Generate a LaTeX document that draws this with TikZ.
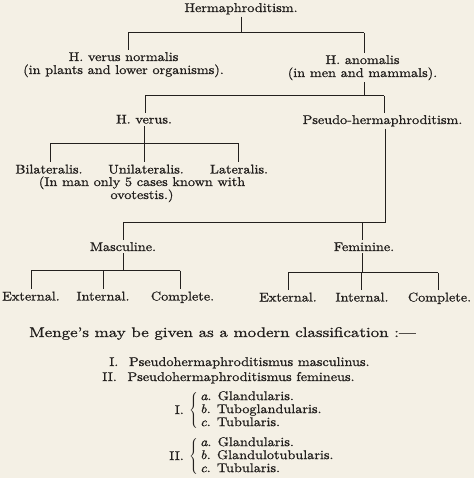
\documentclass[tikz,border=0pt]{standalone}
\usepackage{fontspec}
\setmainfont{lmroman10}[Extension=.otf, UprightFont=*-regular, ItalicFont=*-italic, BoldFont=*-bold, FakeStretch=1.12, FakeBold=1.1]
\newfontfamily\mengefont{lmroman10}[Extension=.otf, UprightFont=*-regular, ItalicFont=*-italic, FakeStretch=1.21, FakeBold=0.9]
\definecolor{bg}{RGB}{244,240,229}
\definecolor{ink}{RGB}{35,32,30}
\begin{document}
\begin{tikzpicture}[x=1pt,y=-1pt,
  lbl/.style={anchor=base, inner sep=2pt, text=ink, font=\fontsize{12.7}{13}\selectfont, align=center},
  txt/.style={inner sep=0pt, text=ink, font=\fontsize{12.7}{13}\selectfont},
  conn/.style={draw=ink, line width=1pt}]
\fill[bg] (0,0) rectangle (474,478);
\useasboundingbox (0,0) rectangle (474,478);

% tree nodes (multi-line nodes: base = last line)
\node[lbl] (herm) at (241,12) {Hermaphroditism.};
\node[lbl] (hvn) at (123.5,74) {H. verus normalis\\(in plants and lower organisms).};
\node[lbl] (hano) at (362.5,77) {H. anomalis\\(in men and mammals).};
\node[lbl] (hver) at (144,123.5) {H. verus.};
\node[lbl] (pseudo) at (382.5,124) {Pseudo-hermaphroditism.};
\node[lbl] (bil) at (49,173.5) {Bilateralis.};
\node[lbl] (uni) at (146,173.5) {Unilateralis.};
\node[lbl] (lat) at (239,173.5) {Lateralis.};
\node[lbl] (note) at (142,199) {(In man only 5 cases known with\\ovotestis.)};
\node[lbl] (masc) at (123,251) {Masculine.};
\node[lbl] (fem) at (364,251) {Feminine.};
\node[lbl] (mext) at (31,300.5) {External.};
\node[lbl] (mint) at (103,300.5) {Internal.};
\node[lbl] (mcom) at (182.5,300.5) {Complete.};
\node[lbl] (fext) at (288,301.5) {External.};
\node[lbl] (fint) at (362,301.5) {Internal.};
\node[lbl] (fcom) at (439.5,301.5) {Complete.};

% junctions
\coordinate (j1) at (241,33);  \coordinate (j1a) at (128,33);  \coordinate (j1b) at (364,33);
\coordinate (j2) at (364,96);  \coordinate (j2a) at (145,96);  \coordinate (j2b) at (384,96);
\coordinate (j3) at (144,143.5); \coordinate (j3a) at (50,143.5); \coordinate (j3b) at (144,143.5); \coordinate (j3c) at (238,143.5);
\coordinate (j4) at (385,222.5); \coordinate (j4a) at (123,222.5); \coordinate (j4b) at (362,222.5);
\coordinate (j5) at (123,270.5); \coordinate (j5a) at (31,270.5); \coordinate (j5b) at (103,270.5); \coordinate (j5c) at (180,270.5);
\coordinate (j6) at (362,272.5); \coordinate (j6a) at (288,272.5); \coordinate (j6b) at (361,272.5); \coordinate (j6c) at (438,272.5);

% connectors
\draw[conn] (j1 |- herm.south) -- (j1);
\draw[conn] (j1a) -- (j1b);
\draw[conn] (j1a) -- (j1a |- hvn.north);
\draw[conn] (j1b) -- (j1b |- hano.north);

\draw[conn] (j2 |- hano.south) -- (j2);
\draw[conn] (j2a) -- (j2b);
\draw[conn] (j2a) -- (j2a |- hver.north);
\draw[conn] (j2b) -- (j2b |- pseudo.north);

\draw[conn] (j3 |- hver.south) -- (j3);
\draw[conn] (j3a) -- (j3c);
\draw[conn] (j3a) -- (j3a |- bil.north);
\draw[conn] (j3b) -- (j3b |- uni.north);
\draw[conn] (j3c) -- (j3c |- lat.north);

\draw[conn] (j4 |- pseudo.south) -- (j4);
\draw[conn] (j4a) -- (j4);
\draw[conn] (j4a) -- (j4a |- masc.north);
\draw[conn] (j4b) -- (j4b |- fem.north);

\draw[conn] (j5 |- masc.south) -- (j5);
\draw[conn] (j5a) -- (j5c);
\draw[conn] (j5a) -- (j5a |- mext.north);
\draw[conn] (j5b) -- (j5b |- mint.north);
\draw[conn] (j5c) -- (j5c |- mcom.north);

\draw[conn] (j6 |- fem.south) -- (j6);
\draw[conn] (j6a) -- (j6c);
\draw[conn] (j6a) -- (j6a |- fext.north);
\draw[conn] (j6b) -- (j6b |- fint.north);
\draw[conn] (j6c) -- (j6c |- fcom.north);

% classification text
\node[anchor=base west, inner sep=0pt, text=ink, font=\mengefont\fontsize{14}{16}\selectfont] (menge) at (29,337) {Menge’s may be given as a modern classification :—};
\node[txt, anchor=base west] (cl1) at (109,366) {I.\hspace{6pt} Pseudohermaphroditismus masculinus.};
\node[txt, anchor=base west] (cl2) at (102,381) {II.\hspace{6pt} Pseudohermaphroditismus femineus.};

\node[txt, anchor=base east] (g1lab) at (184,414) {I.};
\node[txt, anchor=west] (g1) at (189,410.5) {$\left\{\begin{tabular}{@{\,}l@{}}\textit{a}. Glandularis.\\\textit{b}. Tuboglandularis.\\\textit{c}. Tubularis.\end{tabular}\right.$};
\node[txt, anchor=base east] (g2lab) at (184,460) {II.};
\node[txt, anchor=west] (g2) at (189,456.5) {$\left\{\begin{tabular}{@{\,}l@{}}\textit{a}. Glandularis.\\\textit{b}. Glandulotubularis.\\\textit{c}. Tubularis.\end{tabular}\right.$};
\end{tikzpicture}
\end{document}
